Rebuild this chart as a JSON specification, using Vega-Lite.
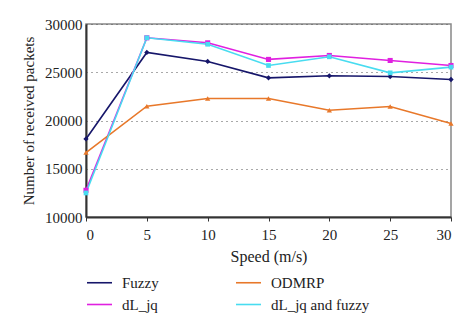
{
  "$schema": "https://vega.github.io/schema/vega-lite/v6.json",
  "width": 365,
  "height": 193,
  "autosize": {"type": "none"},
  "padding": {"left": 86, "top": 24, "right": 23, "bottom": 110},
  "background": "white",
  "config": {
    "font": "Liberation Serif",
    "view": {"stroke": "#888888", "strokeWidth": 1.5},
    "axis": {"labelFont": "Liberation Serif", "titleFont": "Liberation Serif", "labelFontSize": 15, "titleFontSize": 16, "titleFontWeight": "normal", "labelColor": "#222", "titleColor": "#222", "domainColor": "#333", "domainWidth": 2, "tickColor": "#333"},
    "legend": {"labelFont": "Liberation Serif", "labelFontSize": 15, "labelColor": "#222"}
  },
  "data": {
    "values": [
      {"speed": 0, "v": 18090, "s": "Fuzzy"},
      {"speed": 5, "v": 27050, "s": "Fuzzy"},
      {"speed": 10, "v": 26120, "s": "Fuzzy"},
      {"speed": 15, "v": 24420, "s": "Fuzzy"},
      {"speed": 20, "v": 24630, "s": "Fuzzy"},
      {"speed": 25, "v": 24560, "s": "Fuzzy"},
      {"speed": 30, "v": 24250, "s": "Fuzzy"},
      {"speed": 0, "v": 12770, "s": "dL_jq"},
      {"speed": 5, "v": 28570, "s": "dL_jq"},
      {"speed": 10, "v": 28050, "s": "dL_jq"},
      {"speed": 15, "v": 26330, "s": "dL_jq"},
      {"speed": 20, "v": 26740, "s": "dL_jq"},
      {"speed": 25, "v": 26220, "s": "dL_jq"},
      {"speed": 30, "v": 25700, "s": "dL_jq"},
      {"speed": 0, "v": 16680, "s": "ODMRP"},
      {"speed": 5, "v": 21480, "s": "ODMRP"},
      {"speed": 10, "v": 22280, "s": "ODMRP"},
      {"speed": 15, "v": 22280, "s": "ODMRP"},
      {"speed": 20, "v": 21070, "s": "ODMRP"},
      {"speed": 25, "v": 21450, "s": "ODMRP"},
      {"speed": 30, "v": 19690, "s": "ODMRP"},
      {"speed": 0, "v": 12490, "s": "dL_jq and fuzzy"},
      {"speed": 5, "v": 28570, "s": "dL_jq and fuzzy"},
      {"speed": 10, "v": 27900, "s": "dL_jq and fuzzy"},
      {"speed": 15, "v": 25700, "s": "dL_jq and fuzzy"},
      {"speed": 20, "v": 26600, "s": "dL_jq and fuzzy"},
      {"speed": 25, "v": 24940, "s": "dL_jq and fuzzy"},
      {"speed": 30, "v": 25530, "s": "dL_jq and fuzzy"}
    ]
  },
  "encoding": {
    "x": {"field": "speed", "type": "quantitative", "title": "Speed (m/s)",
      "scale": {"domain": [0, 30], "nice": false},
      "axis": {"values": [0, 5, 10, 15, 20, 25, 30], "grid": false, "tickSize": 4, "labelPadding": 6, "titlePadding": 6}},
    "y": {"field": "v", "type": "quantitative", "title": "Number of received packets",
      "scale": {"domain": [10000, 30000], "nice": false},
      "axis": {"values": [10000, 15000, 20000, 25000, 30000], "format": "d", "ticks": false, "labelPadding": 4, "titlePadding": 8, "titleFontSize": 15,
        "grid": true, "gridDash": [1, 4], "gridColor": "#555", "gridWidth": 1.2}}
  },
  "layer": [
    {"mark": {"type": "line", "strokeWidth": 1.6},
      "encoding": {
        "color": {"field": "s", "type": "nominal", "title": null,
          "scale": {"domain": ["Fuzzy", "dL_jq", "ODMRP", "dL_jq and fuzzy"], "range": ["#16166a", "#e020e0", "#e8782a", "#48dcf0"]},
          "legend": {"orient": "none", "legendX": 0, "legendY": 245, "columns": 2, "columnPadding": 73, "rowPadding": 0, "symbolType": "stroke", "symbolSize": 625, "symbolStrokeWidth": 1.6, "labelOffset": 9,
            "encode": {"symbols": {"update": {"shape": {"value": "stroke"}, "fill": {"value": "transparent"}, "strokeWidth": {"value": 1.6}}}}}}}},
    {"transform": [{"filter": "datum.s == 'Fuzzy'"}], "mark": {"type": "point", "filled": true, "size": 28, "opacity": 1, "shape": "diamond", "color": "#16166a"}},
    {"transform": [{"filter": "datum.s == 'ODMRP'"}], "mark": {"type": "point", "filled": true, "size": 28, "opacity": 1, "shape": "triangle-up", "color": "#e8782a"}},
    {"transform": [{"filter": "datum.s == 'dL_jq'"}], "mark": {"type": "point", "filled": true, "size": 26, "opacity": 1, "shape": "square", "color": "#e020e0"}},
    {"transform": [{"filter": "datum.s == 'dL_jq and fuzzy'"}], "mark": {"type": "point", "filled": true, "size": 22, "opacity": 1, "shape": "square", "color": "#48dcf0"}}
  ]
}
